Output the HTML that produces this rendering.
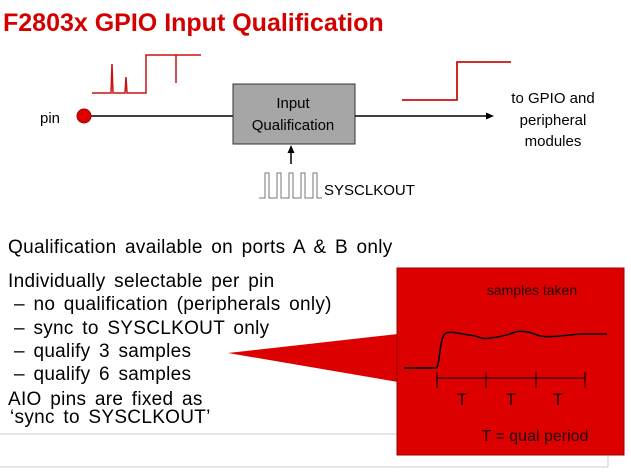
<!DOCTYPE html>
<html><head><meta charset="utf-8"><style>
body{margin:0;width:631px;height:470px;background:#fff;overflow:hidden;font-family:"Liberation Sans",sans-serif;}
</style></head><body>
<svg width="631" height="470" viewBox="0 0 631 470" xmlns="http://www.w3.org/2000/svg" font-family="Liberation Sans, sans-serif">
<text x="3" y="31" font-size="25" font-weight="bold" fill="#d40000">F2803x GPIO Input Qualification</text>
<polyline points="92,93 111,93 112,64 113,93 125,93 126,77 127,93 146,93 146,55 201,55" fill="none" stroke="#cc1111" stroke-width="1.5"/>
<line x1="176" y1="55" x2="176" y2="83" stroke="#cc1111" stroke-width="1.5"/>
<polyline points="402,100 457,100 457,62 511,62" fill="none" stroke="#cc1111" stroke-width="1.8"/>
<line x1="84" y1="116" x2="233" y2="116" stroke="#000" stroke-width="1.5"/>
<circle cx="84" cy="116" r="7" fill="#dd0000" stroke="#aa0000"/>
<text x="40" y="123" font-size="15">pin</text>
<rect x="233" y="84" width="122" height="60" fill="#a6a6a6" stroke="#333" stroke-width="1"/>
<text x="293" y="108" font-size="15" text-anchor="middle">Input</text>
<text x="293" y="130" font-size="15" text-anchor="middle">Qualification</text>
<line x1="355" y1="116" x2="488" y2="116" stroke="#000" stroke-width="1.5"/>
<polygon points="494,116 486,112.5 486,119.5" fill="#000"/>
<text x="553" y="103" font-size="15" text-anchor="middle">to GPIO and</text>
<text x="553" y="125" font-size="15" text-anchor="middle">peripheral</text>
<text x="553" y="146" font-size="15" text-anchor="middle">modules</text>
<line x1="291" y1="164" x2="291" y2="151" stroke="#000" stroke-width="1.5"/>
<polygon points="291,145 287.5,153 294.5,153" fill="#000"/>
<polyline points="259,198 265,198 265,173 269,173 269,198 277,198 277,173 281,173 281,198 289,198 289,173 293,173 293,198 301,198 301,173 305,173 305,198 313,198 313,173 317,173 317,198 322,198" fill="none" stroke="#777" stroke-width="1"/>
<text x="324" y="195" font-size="15">SYSCLKOUT</text>
<g font-size="19" fill="#000" word-spacing="3" letter-spacing="0.3">
<text x="8" y="253">Qualification available on ports A &amp; B only</text>
<text x="8" y="287">Individually selectable per pin</text>
<text x="14" y="310">– no qualification (peripherals only)</text>
<text x="14" y="334">– sync to SYSCLKOUT only</text>
<text x="14" y="357">– qualify 3 samples</text>
<text x="14" y="380">– qualify 6 samples</text>
<text x="8" y="405">AIO pins are fixed as</text>
<text x="10" y="423">‘sync to SYSCLKOUT’</text>
</g>
<line x1="0" y1="434" x2="397" y2="434" stroke="#ccc" stroke-width="1"/>
<line x1="0" y1="467" x2="608" y2="467" stroke="#ccc" stroke-width="1"/>
<line x1="608" y1="440" x2="608" y2="467" stroke="#ccc" stroke-width="1"/>
<polygon points="228,353 398,334 398,382" fill="#dd0000"/>
<rect x="397" y="268" width="227" height="187" fill="#dd0000" stroke="#990000" stroke-width="1"/>
<text x="532" y="295" font-size="14" text-anchor="middle" fill="#200">samples taken</text>
<path d="M404,368 L436,368 C440,368 439,336 446,333 C452,331 460,334 470,335 C478,336 482,340 490,338 C500,337 508,335 515,332 C525,330 532,333 540,336 C552,338 566,335 580,334 L607,334" fill="none" stroke="#000" stroke-width="1.5"/>
<line x1="437" y1="378" x2="585" y2="378" stroke="#000" stroke-width="1"/>
<g stroke="#000" stroke-width="1">
<line x1="437" y1="372" x2="437" y2="388"/><line x1="486" y1="372" x2="486" y2="388"/>
<line x1="536" y1="372" x2="536" y2="388"/><line x1="585" y1="372" x2="585" y2="388"/>
</g>
<g font-size="17" fill="#200" text-anchor="middle">
<text x="462" y="405">T</text><text x="511" y="405">T</text><text x="558" y="405">T</text>
</g>
<text x="535" y="441" font-size="16" text-anchor="middle" fill="#200">T = qual period</text>
</svg>
</body></html>
